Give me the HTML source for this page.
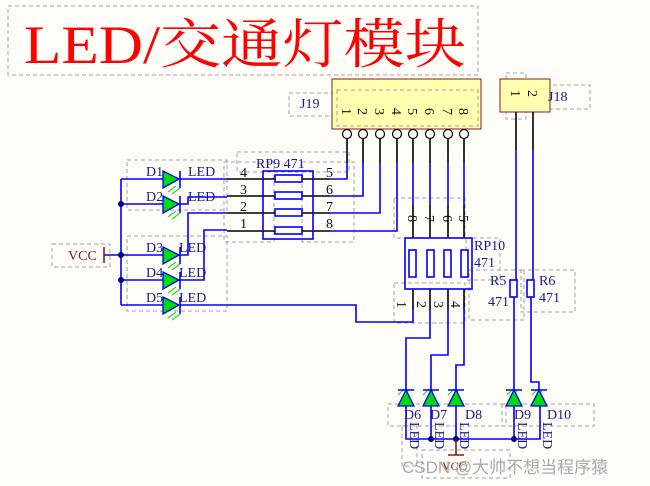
<!DOCTYPE html>
<html><head><meta charset="utf-8"><style>
html,body{margin:0;padding:0;background:#fffdf8;}
svg{display:block;}
text{font-family:"Liberation Serif","Noto Serif CJK SC",serif;}
</style></head><body>
<svg width="650" height="486" viewBox="0 0 650 486" xmlns="http://www.w3.org/2000/svg">
<rect width="650" height="486" fill="#fffdf8"/>
<g fill="none" stroke="#a0a0a8" stroke-width="1" stroke-dasharray="4,3">
<rect x="8" y="6" width="470" height="69"/>
<rect x="289" y="93" width="54" height="23"/>
<rect x="506" y="73" width="20" height="46"/>
<rect x="532" y="85" width="58" height="24"/>
<rect x="127" y="160" width="100" height="50"/>
<rect x="127" y="236" width="100" height="75"/>
<rect x="52" y="244" width="58" height="23"/>
<rect x="237" y="152" width="112" height="20"/>
<rect x="224" y="162" width="50" height="80"/>
<rect x="302" y="162" width="52" height="80"/>
<rect x="394" y="198" width="71" height="40"/>
<rect x="394" y="283" width="71" height="40"/>
<rect x="466" y="238" width="34" height="42"/>
<rect x="469" y="270" width="55" height="50"/>
<rect x="521" y="270" width="54" height="42"/>
<rect x="388" y="404" width="118" height="22"/>
<rect x="502" y="404" width="92" height="22"/>
<rect x="402" y="426" width="15" height="40"/>
<rect x="422" y="450" width="88" height="28"/>
</g>
<text x="24" y="63" font-size="54" fill="#ff0000" textLength="442" lengthAdjust="spacingAndGlyphs">LED/交通灯模块</text>
<rect x="332" y="79" width="149" height="50" fill="#ffffb0" stroke="#8b1a1a" stroke-width="1"/>
<rect x="337" y="90" width="141" height="36" fill="none" stroke="#a0a0a8" stroke-dasharray="4,3"/>
<text x="300" y="108" font-size="14" fill="#1a1a8c">J19</text>
<g font-size="14" fill="#111">
<text transform="translate(342,108) rotate(90)">1</text>
<text transform="translate(358,108) rotate(90)">2</text>
<text transform="translate(375,108) rotate(90)">3</text>
<text transform="translate(392,108) rotate(90)">4</text>
<text transform="translate(408,108) rotate(90)">5</text>
<text transform="translate(425,108) rotate(90)">6</text>
<text transform="translate(443,108) rotate(90)">7</text>
<text transform="translate(459,108) rotate(90)">8</text>
</g>
<rect x="500" y="79" width="50" height="33" fill="#ffffb0" stroke="#8b1a1a"/>
<g font-size="14" fill="#111">
<text transform="translate(511,90) rotate(90)">1</text>
<text transform="translate(528,90) rotate(90)">2</text>
</g>
<text x="548" y="101" font-size="14" fill="#1a1a8c">J18</text>
<g stroke="#000" stroke-width="1.6" fill="none">
<path d="M347 138V163M363 138V163M380 138V163M397 138V163M413 138V163M430 138V163M448 138V163M464 138V163"/>
<path d="M516 112V150M533 112V150"/>
<path d="M413 205V238M430 205V238M448 205V238M464 205V238"/>
<path d="M430 289V310M448 289V310M464 289V310M413 289V310"/>
<path d="M227 179H275M227 196H275M227 213H275M227 231H275"/>
<path d="M302 179H330M302 196H330M302 213H330M302 231H330"/>
</g>
<g fill="#fff" stroke="#000" stroke-width="1.2">
<circle cx="347" cy="134" r="4.5"/><circle cx="363" cy="134" r="4.5"/><circle cx="380" cy="134" r="4.5"/><circle cx="397" cy="134" r="4.5"/>
<circle cx="413" cy="134" r="4.5"/><circle cx="430" cy="134" r="4.5"/><circle cx="448" cy="134" r="4.5"/><circle cx="464" cy="134" r="4.5"/>
</g>
<g stroke="#0000ff" stroke-width="1.6" fill="none">
<path d="M347 163V179H330M363 163V196H330M380 163V213H330M397 163V231H330"/>
<path d="M413 163V205M430 163V205M448 163V205M464 163V205"/>
<path d="M121 179V305M121 179H163M121 305H163M121 204H163M121 255H163M121 280H163M104 255H121"/>
<path d="M180 179H227M180 204H188V197H227M180 255H188V213H227M180 280H204V230H227"/>
<path d="M180 305H356V322H413V310"/>
<path d="M430 310V338H406V392M448 310V355H431V392M464 310V365H456V392"/>
<path d="M516 150V280M514 297V392M533 150V280M531 297V382H539V392"/>
<path d="M406 406V439H540V406M431 406V439M456 406V439M514 406V439"/>
</g>
<rect x="263" y="171" width="50" height="68" fill="none" stroke="#0000ff" stroke-width="1.6"/>
<g fill="#fff" stroke="#0000ff" stroke-width="1.6">
<rect x="275" y="175" width="27" height="7"/><rect x="275" y="192" width="27" height="7"/><rect x="275" y="209" width="27" height="7"/><rect x="275" y="227" width="27" height="7"/>
</g>
<rect x="405" y="238" width="67" height="51" fill="none" stroke="#0000ff" stroke-width="1.6"/>
<g fill="#fff" stroke="#0000ff" stroke-width="1.6">
<rect x="409" y="250" width="7" height="27"/><rect x="427" y="250" width="7" height="27"/><rect x="444" y="250" width="7" height="27"/><rect x="461" y="250" width="7" height="27"/>
<rect x="510" y="280" width="7" height="17"/><rect x="527" y="280" width="7" height="17"/>
</g>
<g fill="#000080">
<circle cx="121" cy="204" r="3"/><circle cx="121" cy="255" r="3"/><circle cx="121" cy="280" r="3"/>
<circle cx="431" cy="439" r="3"/><circle cx="456" cy="439" r="3"/><circle cx="514" cy="439" r="3"/>
</g>
<path d="M104 247V263" stroke="#8b1a1a" stroke-width="1.6"/>
<text x="68" y="260" font-size="14" fill="#8b1a1a">VCC</text>
<path d="M456 439V455M448 455H464" stroke="#8b1a1a" stroke-width="1.6"/>
<g stroke="#0000ff" stroke-width="1.3" fill="#00dd00">
<path d="M163 171L179 179L163 188Z"/><path d="M163 196L179 204L163 213Z"/><path d="M163 247L179 255L163 264Z"/><path d="M163 272L179 280L163 289Z"/><path d="M163 297L179 305L163 314Z"/>
</g>
<g stroke="#0000ff" stroke-width="1.6">
<path d="M180 171V188M180 196V213M180 247V264M180 272V289M180 297V314"/>
</g>
<g stroke="#22dd22" stroke-width="1.2">
<path d="M168 192l8-6M172 194l8-6M168 217l8-6M172 219l8-6M168 268l8-6M172 270l8-6M168 293l8-6M172 295l8-6M168 318l8-6M172 320l8-6"/>
<path d="M398 395l6-6M402 397l6-6M423 395l6-6M427 397l6-6M448 395l6-6M452 397l6-6M507 395l6-6M511 397l6-6M532 395l6-6M536 397l6-6"/>
</g>
<g stroke="#0000ff" stroke-width="1.3" fill="#00dd00">
<path d="M398 406L406 390L414 406Z"/><path d="M423 406L431 390L439 406Z"/><path d="M448 406L456 390L464 406Z"/><path d="M506 406L514 390L522 406Z"/><path d="M531 406L539 390L547 406Z"/>
</g>
<g stroke="#0000ff" stroke-width="1.6"><path d="M398 390H414M423 390H439M448 390H464M506 390H522M531 390H547"/></g>
<g font-size="14" fill="#1a1a8c">
<text x="146" y="176">D1</text><text x="188" y="176">LED</text>
<text x="146" y="201">D2</text><text x="188" y="201">LED</text>
<text x="146" y="252">D3</text><text x="179" y="252">LED</text>
<text x="146" y="277">D4</text><text x="179" y="277">LED</text>
<text x="146" y="302">D5</text><text x="179" y="302">LED</text>
<text x="256" y="168">RP9  471</text>
<text x="474" y="250">RP10</text><text x="474" y="267">471</text>
<text x="490" y="285">R5</text><text x="488" y="306">471</text>
<text x="539" y="285">R6</text><text x="539" y="302">471</text>
<text x="404" y="419">D6</text><text x="430" y="419">D7</text><text x="465" y="419">D8</text>
<text x="514" y="419">D9</text><text x="547" y="419">D10</text>
</g>
<g font-size="14" fill="#1a1a8c">
<text transform="translate(410,422) rotate(90)">LED</text>
<text transform="translate(435,422) rotate(90)">LED</text>
<text transform="translate(460,422) rotate(90)">LED</text>
<text transform="translate(518,422) rotate(90)">LED</text>
<text transform="translate(543,422) rotate(90)">LED</text>
</g>
<g font-size="14" fill="#111">
<text x="240" y="177">4</text><text x="240" y="194">3</text><text x="240" y="211">2</text><text x="240" y="228">1</text>
<text x="326" y="177">5</text><text x="326" y="194">6</text><text x="326" y="211">7</text><text x="326" y="228">8</text>
<text transform="translate(408,215) rotate(90)">8</text><text transform="translate(425,215) rotate(90)">7</text>
<text transform="translate(443,215) rotate(90)">6</text><text transform="translate(459,215) rotate(90)">5</text>
<text transform="translate(397,301) rotate(90)">1</text><text transform="translate(417,301) rotate(90)">2</text>
<text transform="translate(434,301) rotate(90)">3</text><text transform="translate(451,301) rotate(90)">4</text>
</g>
<text x="442" y="470" font-size="12" fill="#8b1a1a">VCC</text>
<text x="402" y="473" font-size="17" fill="#9a9a9a" fill-opacity="0.85" style="font-family:'Liberation Sans','Noto Sans CJK SC',sans-serif">CSDN @大帅不想当程序猿</text>
</svg>
</body></html>
